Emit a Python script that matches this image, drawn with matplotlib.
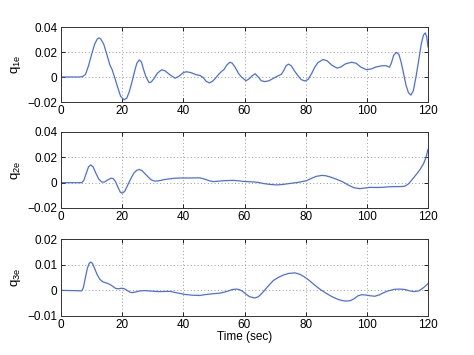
import matplotlib
matplotlib.use("Agg")
import matplotlib.pyplot as plt

plt.rcParams['font.family'] = ['Liberation Sans', 'DejaVu Sans']

t1 = [0, 6, 7, 8, 9, 10, 11, 11.8, 12.4, 13, 14, 15, 16, 16.7, 17.5, 18.5, 19.5, 20.6, 21.5, 22.3, 23.2,
      24, 24.8, 25.6, 26.3, 27, 27.8, 28.8, 29.5, 30.5, 31.5, 32.9, 34, 35.5, 37.3, 38.5, 40, 41, 42.5,
      44, 45.5, 46.5, 47.5, 48.5, 49.5, 50.5, 51.5, 52.5, 53.3, 54.2, 55.2, 56, 57, 58, 59, 60.5, 61.5,
      62.5, 63.5, 64.5, 65.5, 66.7, 68, 69.5, 71, 72, 72.8, 73.6, 74.4, 75.3, 76.3, 77.5, 78.5, 79.7,
      80.8, 82, 83, 84, 85.7, 87, 88.5, 90.3, 91.5, 93, 95, 96.5, 98, 99.9, 101.5, 103, 105, 106.4,
      107.4, 108, 108.8, 109.7, 110.5, 111.2, 112, 112.8, 113.6, 114.4, 115.2, 116, 117, 117.8, 118.5,
      119.1, 119.6, 120]
q1 = [0, 0, 0.0003, 0.002, 0.009, 0.018, 0.0262, 0.0302, 0.0313, 0.0305, 0.026, 0.018, 0.0095, 0.006,
      0.0, -0.008, -0.0155, -0.0182, -0.017, -0.012, -0.004, 0.004, 0.011, 0.0137, 0.012, 0.006, 0.0,
      -0.0045, -0.004, -0.001, 0.003, 0.0058, 0.005, 0.002, -0.001, 0.0005, 0.0035, 0.0042, 0.0035,
      0.002, 0.0012, -0.0005, -0.0035, -0.0047, -0.0035, -0.001, 0.002, 0.0045, 0.006, 0.0095, 0.0118,
      0.011, 0.0075, 0.003, 0.0, -0.003, -0.0015, 0.001, 0.0026, 0.0, -0.003, -0.0037, -0.003, -0.001,
      0.001, 0.002, 0.005, 0.009, 0.0103, 0.009, 0.005, 0.001, -0.002, -0.0032, -0.002, 0.003, 0.008,
      0.0115, 0.014, 0.013, 0.0095, 0.0071, 0.008, 0.0105, 0.0118, 0.011, 0.008, 0.0058, 0.0065, 0.008,
      0.009, 0.009, 0.0078, 0.011, 0.0175, 0.0197, 0.018, 0.012, 0.003, -0.0065, -0.0125, -0.0145,
      -0.011, -0.001, 0.014, 0.0265, 0.0335, 0.0353, 0.032, 0.024]

t2 = [0, 6.8, 7.5, 8.2, 9, 9.7, 10.5, 11.3, 12.3, 13.3, 14.2, 15.2, 16.3, 17, 17.8, 18.7, 19.4, 20, 20.8,
      21.8, 22.8, 23.8, 24.8, 25.6, 26.5, 27.5, 28.5, 29.5, 30.7, 32, 34, 36.7, 39, 42, 45.4, 47, 48.5,
      49.8, 51.5, 53.5, 56.3, 58, 59.5, 61, 62.9, 64.5, 66.5, 68.5, 70.5, 72.5, 75, 77.5, 80.3, 82, 83.5,
      85.2, 86.5, 88, 90, 92, 94, 95.8, 97.7, 99.5, 101, 103, 105, 107, 109, 111, 112.4, 113.5, 114.5,
      115.5, 116.5, 117.5, 118.5, 119.3, 120]
q2 = [0, 0, 0.002, 0.007, 0.0125, 0.014, 0.0125, 0.008, 0.003, 0.0005, 0.0005, 0.002, 0.0035, 0.0033,
      0.001, -0.004, -0.0075, -0.0083, -0.007, -0.002, 0.003, 0.0075, 0.0098, 0.0104, 0.0095, 0.007,
      0.0045, 0.0022, 0.0012, 0.0015, 0.0025, 0.0034, 0.0037, 0.0037, 0.0038, 0.0028, 0.0015, 0.0008,
      0.0012, 0.0016, 0.0018, 0.0015, 0.001, 0.0008, 0.0006, 0.0002, -0.0008, -0.0014, -0.0018, -0.0014,
      -0.0006, 0.0002, 0.0016, 0.0035, 0.005, 0.0057, 0.0055, 0.0045, 0.0028, 0.0008, -0.002, -0.004,
      -0.0047, -0.0042, -0.0037, -0.0038, -0.0037, -0.0033, -0.0031, -0.0031, -0.0028, -0.0012, 0.0015,
      0.0045, 0.0075, 0.0108, 0.0148, 0.0195, 0.0262]

t3 = [0, 6.8, 7.3, 7.9, 8.6, 9.2, 9.7, 10.3, 11, 11.8, 12.7, 13.7, 15, 16, 17, 17.8, 18.7, 19.7, 20.6,
      21.6, 22.5, 23.3, 24.5, 26, 27.5, 29.5, 32, 35.6, 38, 40.5, 43, 45.4, 47.5, 50, 52, 54, 56, 57.4,
      58.5, 59.5, 60.5, 61.7, 63.4, 64.5, 65.5, 66.7, 68, 69.4, 71, 72.8, 74.5, 76.5, 78, 79.5, 81, 83,
      84.7, 86.5, 88.5, 90.5, 92, 93.4, 94.6, 95.8, 97, 98.3, 99.5, 101, 102.6, 104, 105.5, 107, 109,
      110.8, 112.5, 114, 115.5, 117, 118.5, 120]
q3 = [0, -0.0002, 0.001, 0.0045, 0.0085, 0.0105, 0.011, 0.0105, 0.0085, 0.0062, 0.0043, 0.0033, 0.0028,
      0.0023, 0.0015, 0.0008, 0.0006, 0.0008, 0.0007, 0.0, -0.0007, -0.0009, -0.0006, -0.0002, -0.0001,
      -0.0003, -0.0005, -0.0004, -0.001, -0.0016, -0.0019, -0.002, -0.0016, -0.0013, -0.0011, -0.0005,
      0.0003, 0.0005, 0.0002, -0.0005, -0.0015, -0.0025, -0.003, -0.0025, -0.0014, 0.0002, 0.002, 0.0038,
      0.005, 0.006, 0.0066, 0.0068, 0.0063, 0.0053, 0.004, 0.002, 0.0004, -0.001, -0.0024, -0.0035,
      -0.004, -0.0042, -0.004, -0.0033, -0.0022, -0.0017, -0.0018, -0.0021, -0.0023, -0.0018, -0.0009,
      -0.0002, 0.0004, 0.0005, 0.0003, -0.0002, -0.0005, -0.0002, 0.001, 0.0026]

xticks = [0, 20, 40, 60, 80, 100, 120]
yticks1 = [-0.02, 0, 0.02, 0.04]
ylabels1 = ['\u22120.02', '0', '0.02', '0.04']
yticks3 = [-0.01, 0, 0.01, 0.02]
ylabels3 = ['\u22120.01', '0', '0.01', '0.02']

fig = plt.figure(figsize=(4.74, 3.55), dpi=100)
W, H = 474, 355
L, R = 61, 428
panels = [
    (27, 102, t1, q1, yticks1, ylabels1, r'$\mathregular{q_{1e}}$'),
    (132, 208, t2, q2, yticks1, ylabels1, r'$\mathregular{q_{2e}}$'),
    (239, 316, t3, q3, yticks3, ylabels3, r'$\mathregular{q_{3e}}$'),
]
for i, (top, bot, t, q, yt, yl, lab) in enumerate(panels):
    ax = fig.add_axes([L / W, 1 - bot / H, (R - L) / W, (bot - top) / H])
    ax.plot(t, q, color='#4b6ee6', lw=0.9)
    ax.set_xlim(0, 120)
    ax.set_ylim(yt[0], yt[-1])
    ax.set_xticks(xticks)
    ax.set_yticks(yt)
    ax.set_yticklabels(yl)
    ax.grid(True, linestyle=(0, (1, 2.5)), color='#999999', lw=0.7)
    ax.tick_params(direction='in', top=True, right=True, labelsize=8.5, length=3, width=0.6, pad=2.5)
    for s in ax.spines.values():
        s.set_linewidth(0.7)
        s.set_color('#333333')
    ax.set_ylabel(lab, fontsize=9.5, labelpad=3)
    if i == 2:
        ax.set_xlabel('Time (sec)', fontsize=8.5, labelpad=0)

fig.savefig('out.png', dpi=100)
